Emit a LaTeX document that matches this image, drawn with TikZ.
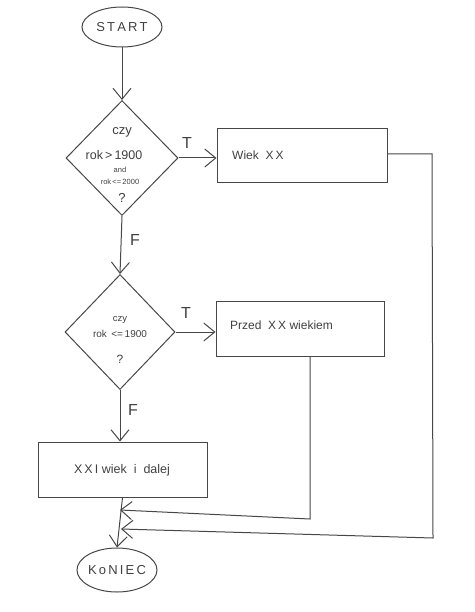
\documentclass[tikz,border=0pt]{standalone}
\usepackage{fontspec}
\setmainfont{Liberation Sans}
\usetikzlibrary{shapes.geometric,arrows.meta}
\begin{document}
\begin{tikzpicture}[x=1pt,y=-1pt,
  ln/.style={draw=black!72, line width=1pt},
  arr/.style={ln, -{Straight Barb[length=11pt,width=18pt]}},
  txt/.style={text=black!75, inner sep=0pt, font=\fontsize{11}{13}\selectfont},
  small/.style={text=black!75, inner sep=0pt, font=\fontsize{7.5}{9}\selectfont},
  lbl/.style={text=black!75, inner sep=0pt, font=\fontsize{16}{18}\selectfont},
  term/.style={ellipse, ln, inner sep=0pt, minimum width=80pt, minimum height=40pt},
  decision/.style={diamond, ln, inner sep=0pt},
  proc/.style={rectangle, ln, inner sep=0pt}]
\useasboundingbox (0,0) rectangle (474,612);

% terminals
\node[term] (start) at (122,27) {};
\node[txt, font=\fontsize{13}{15}\selectfont] (tstart) at (122,27) {S\,T\,A\,R\,T};
\node[term, minimum height=44pt] (end) at (117,570) {};
\node[txt, font=\fontsize{13}{15}\selectfont] (tend) at (117,570) {K\,o\,N\,I\,E\,C};

% decision 1
\node[decision, minimum width=112pt, minimum height=115pt] (d1) at (122,158) {};
\node[txt, font=\fontsize{13}{15}\selectfont] (d1a) at (122,132) {czy};
\node[txt, font=\fontsize{12.5}{14}\selectfont] (d1b) at (114,155) {rok\,>\,1900};
\node[small] (d1c) at (120,170) {and};
\node[small] (d1d) at (120,182) {rok\,<=\,2000};
\node[txt, font=\fontsize{13}{15}\selectfont] (d1e) at (122,198) {?};

% decision 2
\node[decision, minimum width=110pt, minimum height=115pt] (d2) at (120,332) {};
\node[txt, font=\fontsize{9.5}{11}\selectfont] (d2a) at (120,320) {czy};
\node[txt, font=\fontsize{10}{12}\selectfont] (d2b) at (120,334) {rok\, <=\,1900};
\node[txt, font=\fontsize{12}{14}\selectfont] (d2c) at (120,359) {?};

% processes
\node[proc, minimum width=170pt, minimum height=54pt] (b1) at (302,156) {};
\node[txt, anchor=west, font=\fontsize{12}{14}\selectfont] (b1t) at (232,155) {Wiek\ \ X\,X};
\node[proc, minimum width=168pt, minimum height=55pt] (b2) at (300,328.5) {};
\node[txt, anchor=west, font=\fontsize{12}{14}\selectfont] (b2t) at (230,325) {Przed\ \ X\,X wiekiem};
\node[proc, minimum width=169pt, minimum height=55pt] (b3) at (122.5,469.5) {};
\node[txt, font=\fontsize{12.5}{14}\selectfont] (b3t) at (122,470) {X\,X\,I wiek\ \ i\ \ dalej};

% branch labels
\node[lbl] (t1) at (187,143) {T};
\node[lbl] (t2) at (186,313) {T};
\node[lbl] (f1) at (135,240) {F};
\node[lbl] (f2) at (133,410) {F};

% merge points
\coordinate (m1) at (121,529);
\coordinate (m2) at (120,510);
\coordinate (c1a) at (432,154);
\coordinate (c1b) at (433,538);
\coordinate (c2a) at (310,356);
\coordinate (c2b) at (310,519);

% connectors
\draw[arr] (start) -- (d1);
\draw[arr] (d1.east) -- (d1.east -| b1.west);
\draw[arr] (d1.south) -- (d2.north);
\draw[arr] (d2.east) -- (d2.east -| b2.west);
\draw[arr] (d2.south) -- (d2.south |- b3.north);
\draw[arr] (b3.south) -- (end.north);
\draw[arr] (b1.east |- c1a) -- (c1a) -- (c1b) -- (m1);
\draw[arr] (c2a) -- (c2b) -- (m2);
\end{tikzpicture}
\end{document}
